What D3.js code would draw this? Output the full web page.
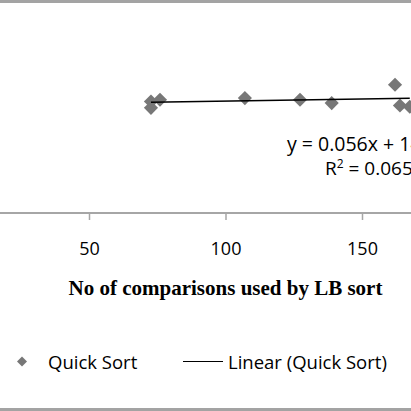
<!DOCTYPE html>
<html><head><meta charset="utf-8">
<script src="https://cdn.jsdelivr.net/npm/d3@7"></script>
<style>html,body{margin:0;padding:0;background:#fff;overflow:hidden}</style>
</head><body>
<svg id="c" width="411" height="411"></svg>
<script>
// Data (x: comparisons by LB sort, y: comparisons by Quick Sort)
const lbComparisons = [72.7, 72.7, 76.0, 107.1, 127.3, 138.9, 162.1, 163.9, 167.5];
const quickSortComparisons = [149.7, 141.2, 152.0, 154.3, 152.0, 147.6, 172.2, 144.3, 142.6];
const xTicks = [50, 100, 150];
const trendSlope = 0.056;
const trendIntercept = 144.6;
const rSquared = 0.0653;
const xTitle = "No of comparisons used by LB sort";
const seriesName = "Quick Sort";
const trendName = "Linear (Quick Sort)";

const svg = d3.select("#c");
const W = 411, H = 411;
const x = d3.scaleLinear().domain([0, 200]).range([-47.5, 498.5]);
const y = d3.scaleLinear().domain([0, 286]).range([213, 0]);
const sans = "'Open Sans', sans-serif";

// chart border
svg.append("line").attr("x1", 0).attr("x2", W).attr("y1", 1.5).attr("y2", 1.5)
  .attr("stroke", "#a3a3a3").attr("stroke-width", 3);
svg.append("line").attr("x1", 0).attr("x2", W).attr("y1", 409.5).attr("y2", 409.5)
  .attr("stroke", "#a3a3a3").attr("stroke-width", 3);

// x axis
const ax = svg.append("g").attr("transform", "translate(0,213)")
  .call(d3.axisBottom(x).tickValues(xTicks).tickSize(7).tickPadding(22).tickFormat(d3.format("d")));
ax.select(".domain").attr("stroke", "#a6a6a6").attr("stroke-width", 2).attr("d", "M-60,0H520");
ax.selectAll(".tick line").attr("stroke", "#a6a6a6").attr("stroke-width", 1.5);
ax.selectAll(".tick text").attr("fill", "#000").style("font-family", sans)
  .style("font-size", "18px");

svg.append("text").attr("x", 225.5).attr("y", 295).attr("text-anchor", "middle")
  .style("font-family", "'Liberation Serif', 'Times New Roman', serif").style("font-weight", "bold")
  .style("font-size", "21px").text(xTitle);

// points
const pts = lbComparisons.map((d, i) => [d, quickSortComparisons[i]]);
svg.append("g").selectAll("path").data(pts).join("path")
  .attr("d", d3.symbol().type(d3.symbolSquare).size(100))
  .attr("transform", d => `translate(${x(d[0])},${y(d[1])}) rotate(45)`)
  .attr("fill", "#777");

// trend line
const xe = d3.extent(lbComparisons);
svg.append("line")
  .attr("x1", x(xe[0])).attr("y1", y(trendSlope * xe[0] + trendIntercept))
  .attr("x2", x(xe[1])).attr("y2", y(trendSlope * xe[1] + trendIntercept))
  .attr("stroke", "#000").attr("stroke-width", 1.5);

// equation labels
svg.append("text").attr("x", 287).attr("y", 151)
  .style("font-family", sans).style("font-size", "19.5px")
  .text(`y = ${trendSlope}x + ${trendIntercept}`);
const r2 = svg.append("text").attr("x", 325).attr("y", 175)
  .style("font-family", sans).style("font-size", "19px");
r2.append("tspan").text("R");
r2.append("tspan").attr("dy", -7).style("font-size", "12px").text("2");
r2.append("tspan").attr("dy", 7).text(` = ${rSquared}`);

// legend
const lg = svg.append("g").attr("transform", "translate(0,361.5)");
lg.append("path").attr("d", d3.symbol().type(d3.symbolSquare).size(50))
  .attr("transform", "translate(22,0) rotate(45)").attr("fill", "#777");
lg.append("text").attr("x", 48).attr("y", 7)
  .style("font-family", sans).style("font-size", "18.5px").text(seriesName);
lg.append("line").attr("x1", 183).attr("x2", 223).attr("y1", 0).attr("y2", 0)
  .attr("stroke", "#000").attr("stroke-width", 1.2);
lg.append("text").attr("x", 228).attr("y", 7)
  .style("font-family", sans).style("font-size", "18.5px").text(trendName);
</script>
</body></html>
